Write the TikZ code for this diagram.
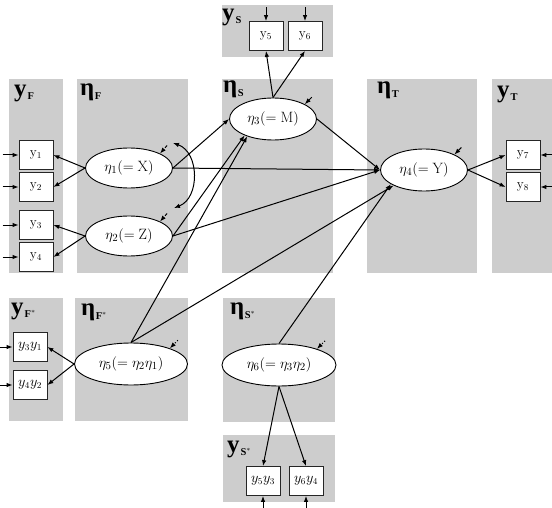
\documentclass[tikz,border=0pt]{standalone}
\usepackage{amsmath,amssymb}
\usepackage{fontspec}
\usepackage{tikz}
\usetikzlibrary{arrows.meta, shapes.geometric, positioning, calc}
\newfontfamily\labfont{Liberation Serif}
\definecolor{panelgray}{RGB}{205,205,205}
% Nhãn của các khung
\newcommand{\ylab}[1]{{\fontsize{25}{25}\selectfont y}\kern1bp\raisebox{-3bp}{\fontsize{10.5}{10.5}\selectfont #1}}
\newcommand{\etalab}[1]{{\fontsize{25}{25}\selectfont η}\kern0.5bp\raisebox{-4bp}{\fontsize{10.5}{10.5}\selectfont #1}}

\begin{document}
\begin{tikzpicture}[x=1bp, y=-1bp,
    >={Latex[length=6bp,width=4.5bp]},
    khung/.style={fill=panelgray},
    bien/.style={draw=black!85, fill=white, line width=0.8bp, minimum width=34bp, minimum height=29bp, inner sep=0pt, font=\fontsize{13.5}{15}\selectfont},
    an/.style={ellipse, draw, fill=white, line width=0.9bp, minimum width=87bp, minimum height=40bp, inner sep=0pt, font=\fontsize{15}{17}\selectfont},
    nhan/.style={anchor=base west, inner sep=0pt, font=\labfont\bfseries},
    mui/.style={->, line width=1bp}]

            \useasboundingbox (0,0) rectangle (552,508);

            % Vẽ các khung nền
            \fill[khung] (9,79) rectangle (63,273); % khung y_F
            \fill[khung] (77,79) rectangle (188,273); % khung eta_F
            \fill[khung] (222,5) rectangle (333,57); % khung y_S
            \fill[khung] (222,79) rectangle (333,273); % khung eta_S
            \fill[khung] (367,79) rectangle (477,273); % khung eta_T
            \fill[khung] (492,79) rectangle (552,273); % khung y_T
            \fill[khung] (9,298) rectangle (63,421); % khung y_F*
            \fill[khung] (75,298) rectangle (188,421); % khung eta_F*
            \fill[khung] (223,298) rectangle (335,422); % khung eta_S*
            \fill[khung] (223,435) rectangle (335,502); % khung y_S*

            % Nhãn các khung
            \node[nhan] (lyF) at (14,97) {\ylab{F}};
            \node[nhan] (leF) at (80,96) {\etalab{F}};
            \node[nhan] (lyS) at (222,21) {\ylab{S}};
            \node[nhan] (leS) at (223,93) {\etalab{S}};
            \node[nhan] (leT) at (377,94) {\etalab{T}};
            \node[nhan] (lyT) at (497,98) {\ylab{T}};
            \node[nhan] (lyFs) at (11,314) {\ylab{F$^{*}$}};
            \node[nhan] (leFs) at (81,315) {\etalab{F$^{*}$}};
            \node[nhan] (leSs) at (230,314) {\etalab{S$^{*}$}};
            \node[nhan] (lySs) at (227,452) {\ylab{S$^{*}$}};

            % Các biến quan sát
            \node[bien] (y1) at (36,155) {$\mathrm{y}_1$};
            \node[bien] (y2) at (36,187) {$\mathrm{y}_2$};
            \node[bien] (y3) at (36,225) {$\mathrm{y}_3$};
            \node[bien] (y4) at (36,257) {$\mathrm{y}_4$};
            \node[bien] (y5) at (266,36) {$\mathrm{y}_5$};
            \node[bien] (y6) at (305,36) {$\mathrm{y}_6$};
            \node[bien] (y7) at (523,155) {$\mathrm{y}_7$};
            \node[bien] (y8) at (523,187) {$\mathrm{y}_8$};
            \node[bien] (y3y1) at (30,347) {$y_3y_1$};
            \node[bien] (y4y2) at (30,385) {$y_4y_2$};
            \node[bien] (y5y3) at (263,481) {$y_5y_3$};
            \node[bien] (y6y4) at (306,481) {$y_6y_4$};

            % Các biến ẩn
            \node[an] (eta1) at (129,168) {$\eta_1(=\mathrm{X})$};
            \node[an] (eta2) at (129,236) {$\eta_2(=\mathrm{Z})$};
            \node[an, minimum height=42bp] (eta3) at (273,119) {$\eta_3(=\mathrm{M})$};
            \node[an, minimum height=42bp] (eta4) at (424,170) {$\eta_4(=\mathrm{Y})$};
            \node[an, minimum width=113bp, minimum height=42bp] (eta5) at (131,364) {$\eta_5(=\eta_2\eta_1)$};
            \node[an, minimum width=114bp, minimum height=42bp] (eta6) at (279,365) {$\eta_6(=\eta_3\eta_2)$};

            % Sai số của biến quan sát
            \foreach \b in {y1,y2,y3,y4} \draw[mui] ([xshift=-16bp]\b.west) -- (\b.west);
            \foreach \b in {y3y1,y4y2} \draw[mui] ([xshift=-13bp]\b.west) -- (\b.west);
            \foreach \b in {y7,y8} \draw[mui] ([xshift=13bp]\b.east) -- (\b.east);
            \foreach \b in {y5,y6} \draw[mui] ([yshift=14bp]\b.north) -- (\b.north);
            \foreach \b in {y5y3,y6y4} \draw[mui] ([yshift=-13bp]\b.south) -- (\b.south);

            % Sai số của biến ẩn
            \draw[mui, dash pattern=on 3bp off 2bp] ([xshift=7bp,yshift=8bp]eta1.25) -- (eta1.25);
            \draw[mui, dash pattern=on 3bp off 2bp] ([xshift=7bp,yshift=8bp]eta2.25) -- (eta2.25);
            \draw[mui] ([xshift=7bp,yshift=7bp]eta3.25) -- (eta3.25);
            \draw[mui] ([xshift=7bp,yshift=7bp]eta4.27) -- (eta4.27);
            \draw[mui, dash pattern=on 1bp off 2bp] ([xshift=8bp,yshift=8bp]eta5.22) -- (eta5.22);
            \draw[mui, dash pattern=on 1bp off 2bp] ([xshift=8bp,yshift=8bp]eta6.23) -- (eta6.23);

            % Hiệp phương sai giữa eta_1 và eta_2
            \coordinate (k1) at (173,143);
            \coordinate (k2) at (174,208);
            \draw[<->, line width=1bp] (k1) to[bend left=70, looseness=1.1] (k2);

            % Đo lường
            \draw[mui] (eta1.west) -- (y1.east);
            \draw[mui] (eta1.west) -- (y2.east);
            \draw[mui] (eta2.west) -- (y3.east);
            \draw[mui] (eta2.west) -- (y4.east);
            \draw[mui] (eta3.north) -- (y5.south);
            \draw[mui] (eta3.north) -- (y6.south);
            \draw[mui] (eta4.east) -- (y7.west);
            \draw[mui] (eta4.east) -- (y8.west);
            \draw[mui] (eta5.west) -- (y3y1.east);
            \draw[mui] (eta5.west) -- (y4y2.east);
            \draw[mui] (eta6.south) -- (y5y3.north);
            \draw[mui] (eta6.south) -- (y6y4.north);

            % Quan hệ cấu trúc
            \draw[mui] (eta1.east) -- (eta3.west);
            \draw[mui] (eta1.east) -- (eta4.west);
            \draw[mui] (eta2.east) -- (eta3.210);
            \draw[mui] (eta2.east) -- (eta4.west);
            \draw[mui] (eta3.east) -- (eta4.west);
            \draw[mui] (eta5.north) -- (eta3.214);
            \draw[mui] (eta5.north) -- (eta4.207);
            \draw[mui] (eta6.north) -- (eta4.203);

\end{tikzpicture}
\end{document}
